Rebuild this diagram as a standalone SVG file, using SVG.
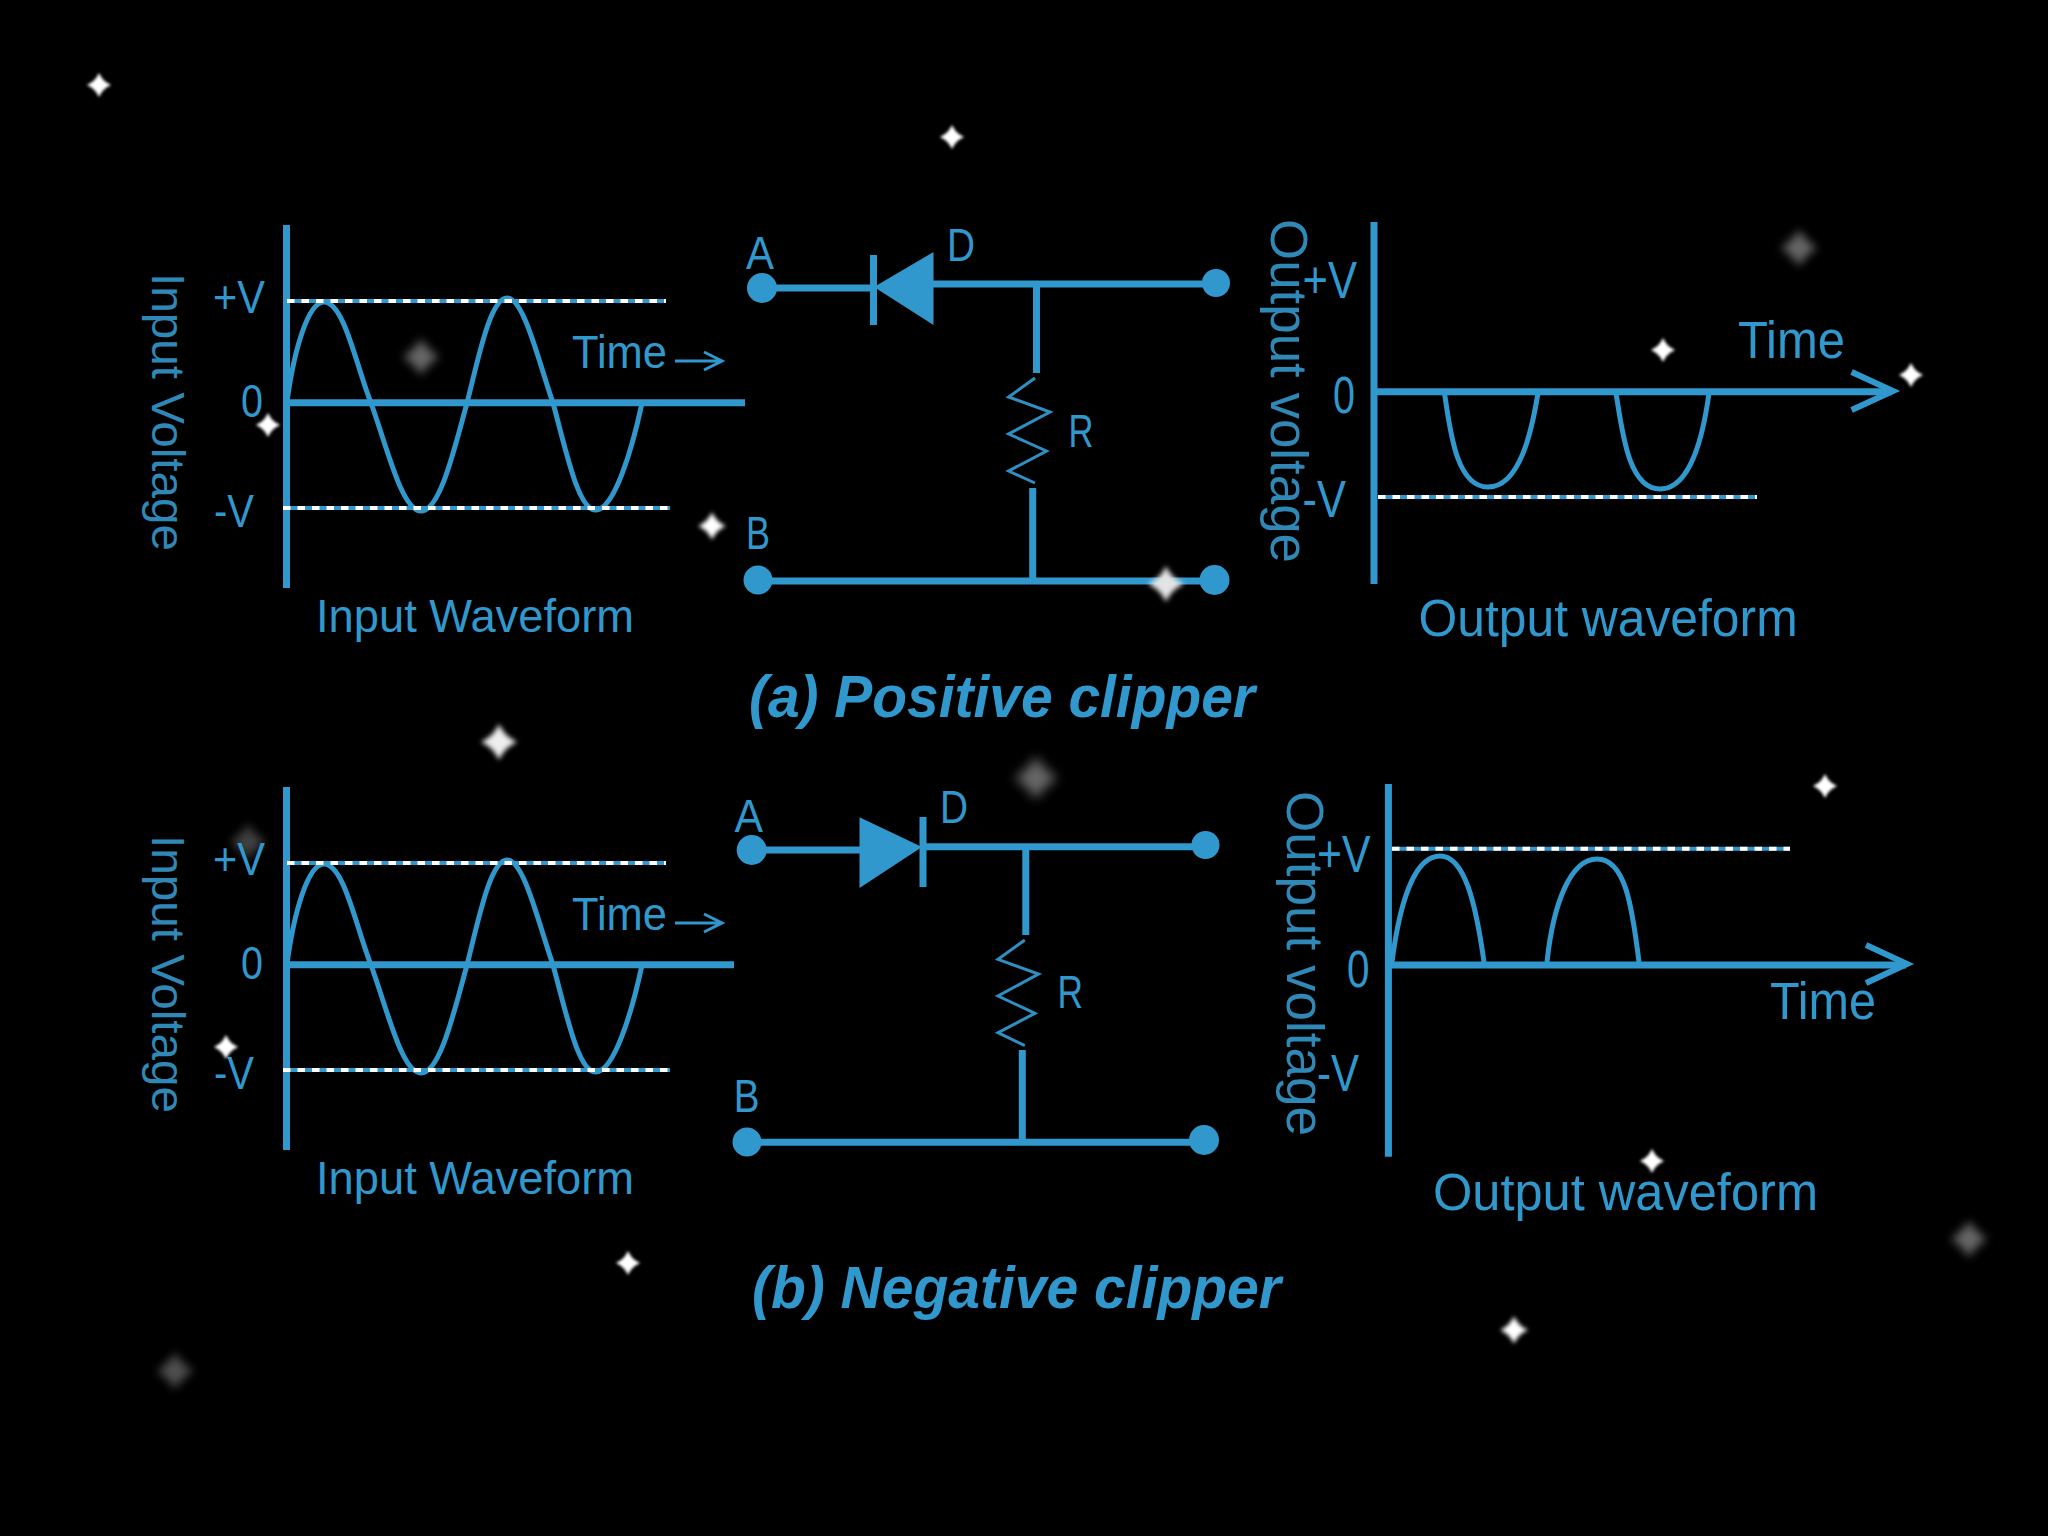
<svg xmlns="http://www.w3.org/2000/svg" width="2048" height="1536" viewBox="0 0 2048 1536">
  <style>
    .bg{fill:#000}
    .w{fill:none;stroke:#3198cd;stroke-width:7}
    .ax{fill:none;stroke:#3198cd;stroke-width:7}
    .wave{fill:none;stroke:#3198cd;stroke-width:5;stroke-linejoin:round}
    .res{fill:none;stroke:#2f8fc2;stroke-width:3}
    .arr{fill:none;stroke:#3198cd;stroke-width:3}
    .head{fill:none;stroke:#3198cd;stroke-width:6}
    .dash0{fill:none;stroke:#3198cd;stroke-width:4}
    .dash1{fill:none;stroke:#fff;stroke-width:4;stroke-dasharray:7.5 7}
    .dot,.tri{fill:#3198cd}
    text{font-family:"Liberation Sans",Arial,sans-serif;fill:#3198cd;font-weight:400}
    .f44{font-size:46px}
    .f49{font-size:51px}
    .vl{fill:#2f88b6}
    .cap{font-size:59px;font-weight:700;font-style:italic}
  </style>
  <defs>
    <filter id="blur" x="-80%" y="-80%" width="260%" height="260%"><feGaussianBlur stdDeviation="1.8"/></filter>
    <filter id="blurDim" x="-80%" y="-80%" width="260%" height="260%"><feGaussianBlur stdDeviation="3.200"/></filter>
    <path id="star" d="M0,-12 C3,-6 6,-3 12,0 C6,3 3,6 0,12 C-3,6 -6,3 -12,0 C-6,-3 -3,-6 0,-12Z" filter="url(#blur)"/>
    <path id="starDim" d="M0,-12 C4,-6 6,-4 12,0 C6,4 4,6 0,12 C-4,6 -6,4 -12,0 C-6,-4 -4,-6 0,-12Z" filter="url(#blurDim)"/>
    <g id="inputWave">
      <path class="ax" d="M286.500 225V588M286 402.700H745"/>
      <path class="wave" d="M287 402C294 350 308 302 324 302C344 302 356 365 371 403C388 450 402 511 421 511C440 511 454 450 467 403C478 360 490 298 507 298C524 298 538 360 553 403C566 450 578 510 595.500 510C614 510 632 450 642 403"/>
      <path class="dash0" d="M287 301H666M283 508H670"/>
      <path class="dash1" d="M287 301H666M283 508H670"/>
      <path class="arr" d="M675 361H722M704 352L722 361L704 370"/>
      <text class="f44" x="213" y="313" textLength="52" lengthAdjust="spacingAndGlyphs">+V</text>
      <text class="f44" x="241" y="417" textLength="22" lengthAdjust="spacingAndGlyphs">0</text>
      <text class="f44" x="214" y="527" textLength="40" lengthAdjust="spacingAndGlyphs">-V</text>
      <text class="f44" x="572" y="368" textLength="95" lengthAdjust="spacingAndGlyphs">Time</text>
      <text class="f44" x="316" y="632" textLength="318" lengthAdjust="spacingAndGlyphs">Input Waveform</text>
      <text class="f44 vl" transform="translate(152,273) rotate(90)" textLength="278" lengthAdjust="spacingAndGlyphs">Input Voltage</text>
    </g>
  </defs>
  <rect class="bg" width="2048" height="1536"/>

  <g id="stars-dim">
    <use href="#starDim" fill="#666" transform="translate(421,357) scale(1.5)"/>
    <use href="#starDim" fill="#666" transform="translate(1799,248) scale(1.5)"/>
    <use href="#starDim" fill="#686868" transform="translate(1036,778) scale(1.8)"/>
    <use href="#starDim" fill="#404040" transform="translate(248,842) scale(1.5)"/>
    <use href="#starDim" fill="#666" transform="translate(1969,1239) scale(1.5)"/>
    <use href="#starDim" fill="#505050" transform="translate(175,1371) scale(1.5)"/>
  </g>

  <g id="connectors">
    <path class="w" d="M762 288H871M933 284H1216M1036.500 284V373M1032.700 488V581M758 581H1214.500"/>
    <path class="res" d="M1035 378L1008.600 397L1050 412L1008.600 434L1046.500 451L1008.600 471L1035 483"/>
    <path class="w" d="M752 850H860M923 846.700H1205.500M1025.800 847V935M1022.300 1050V1142.300M747 1142.300H1204"/>
    <path class="res" d="M1024.800 940L998 959.300L1038.500 974L998 996L1035 1013.300L998 1032.700L1024.800 1045.700"/>
  </g>

  <g id="input-waveform-a"><use href="#inputWave"/></g>

  <g id="input-waveform-b" transform="translate(0,562)">
    <use href="#inputWave"/>
    <rect x="734" y="396" width="14" height="14" class="bg"/>
  </g>

  <g id="output-waveform-a">
    <path class="ax" d="M1374 222V584M1374 391.700H1892"/>
    <path class="head" d="M1851.600 372L1893 391L1851.600 410"/>
    <path class="wave" d="M1444.500 393C1450 430 1456 487 1488 487C1520 487 1532 430 1538 393M1616 393C1622 430 1628 489 1660 489C1692 489 1704 430 1709 393"/>
    <path class="dash0" d="M1378 497H1757"/>
    <path class="dash1" d="M1378 497H1757"/>
    <text class="f49" x="1302.500" y="298" textLength="54.500" lengthAdjust="spacingAndGlyphs">+V</text>
    <text class="f49" x="1333" y="413" textLength="22" lengthAdjust="spacingAndGlyphs">0</text>
    <text class="f49" x="1302.500" y="517" textLength="43.500" lengthAdjust="spacingAndGlyphs">-V</text>
    <text class="f49" x="1738" y="358" textLength="107" lengthAdjust="spacingAndGlyphs">Time</text>
    <text class="f49" x="1418.600" y="636" textLength="379" lengthAdjust="spacingAndGlyphs">Output waveform</text>
    <text class="f49 vl" transform="translate(1271,219) rotate(90)" textLength="344" lengthAdjust="spacingAndGlyphs">Output voltage</text>
  </g>

  <g id="output-waveform-b">
    <path class="ax" d="M1388.400 784V1156.700M1388 965H1906"/>
    <path class="head" d="M1866 945L1907 964L1866 983"/>
    <path class="wave" d="M1392 962C1400 900 1415 856 1440 856C1465 856 1476 905 1484 962M1547 962C1553 905 1570 859 1597 859C1625 859 1632 905 1639 962"/>
    <path class="dash0" d="M1392 848.700H1790"/>
    <path class="dash1" d="M1392 848.700H1790"/>
    <text class="f49" x="1317" y="871.700" textLength="53.500" lengthAdjust="spacingAndGlyphs">+V</text>
    <text class="f49" x="1347" y="986.700" textLength="22.500" lengthAdjust="spacingAndGlyphs">0</text>
    <text class="f49" x="1317" y="1090.700" textLength="42" lengthAdjust="spacingAndGlyphs">-V</text>
    <text class="f49" x="1770" y="1019" textLength="106" lengthAdjust="spacingAndGlyphs">Time</text>
    <text class="f49" x="1433" y="1210" textLength="385" lengthAdjust="spacingAndGlyphs">Output waveform</text>
    <text class="f49 vl" transform="translate(1286.600,791) rotate(90)" textLength="345" lengthAdjust="spacingAndGlyphs">Output voltage</text>
  </g>

  <g id="diode-a">
    <path class="tri" d="M874 287L933.500 252V325Z"/>
    <rect class="tri" x="870" y="255" width="7" height="70"/>
    <text class="f44" x="947" y="261" textLength="28" lengthAdjust="spacingAndGlyphs">D</text>
  </g>
  <g id="diode-b">
    <path class="tri" d="M859.500 817.300L922 847L859.500 888Z"/>
    <rect class="tri" x="919.500" y="817" width="7" height="70"/>
    <text class="f44" x="940" y="823" textLength="28" lengthAdjust="spacingAndGlyphs">D</text>
  </g>
  <g id="resistor-a"><text class="f44" x="1068.500" y="447" textLength="25" lengthAdjust="spacingAndGlyphs">R</text></g>
  <g id="resistor-b"><text class="f44" x="1057.500" y="1008" textLength="25.500" lengthAdjust="spacingAndGlyphs">R</text></g>
  <g id="terminal-a-in">
    <circle class="dot" cx="762" cy="288" r="15"/>
    <text class="f44" x="746" y="269" textLength="28" lengthAdjust="spacingAndGlyphs">A</text>
  </g>
  <g id="terminal-a-out"><circle class="dot" cx="1216" cy="283" r="14"/></g>
  <g id="terminal-a-b">
    <circle class="dot" cx="758" cy="580" r="14.500"/>
    <text class="f44" x="746" y="549" textLength="24" lengthAdjust="spacingAndGlyphs">B</text>
  </g>
  <g id="terminal-a-gnd"><circle class="dot" cx="1214.500" cy="580" r="15"/></g>
  <g id="terminal-b-in">
    <circle class="dot" cx="751.700" cy="850" r="15"/>
    <text class="f44" x="734.500" y="831.700" textLength="28.500" lengthAdjust="spacingAndGlyphs">A</text>
  </g>
  <g id="terminal-b-out"><circle class="dot" cx="1205.500" cy="845" r="14"/></g>
  <g id="terminal-b-b">
    <circle class="dot" cx="747" cy="1142" r="14.500"/>
    <text class="f44" x="733.800" y="1111.700" textLength="25.800" lengthAdjust="spacingAndGlyphs">B</text>
  </g>
  <g id="terminal-b-gnd"><circle class="dot" cx="1204" cy="1140" r="15"/></g>

  <text class="cap" x="749" y="716.500" textLength="506" lengthAdjust="spacingAndGlyphs">(a) Positive clipper</text>
  <text class="cap" x="752" y="1308" textLength="529" lengthAdjust="spacingAndGlyphs">(b) Negative clipper</text>

  <g id="stars-bright">
    <use href="#star" fill="#fff" transform="translate(99,85)"/>
    <use href="#star" fill="#fff" transform="translate(952,137)"/>
    <use href="#star" fill="#fff" transform="translate(1663,350)"/>
    <use href="#star" fill="#fff" transform="translate(1911,375)"/>
    <use href="#star" fill="#fff" transform="translate(268,425)"/>
    <use href="#star" fill="#fff" transform="translate(712,526) scale(1.15)"/>
    <use href="#star" fill="#e4e4e4" transform="translate(1166,584) scale(1.5)"/>
    <use href="#star" fill="#eee" transform="translate(499,742) scale(1.5)"/>
    <use href="#star" fill="#fff" transform="translate(1825,786)"/>
    <use href="#star" fill="#fff" transform="translate(226,1047)"/>
    <use href="#star" fill="#fff" transform="translate(1652,1161)"/>
    <use href="#star" fill="#fff" transform="translate(628,1263)"/>
    <use href="#star" fill="#fff" transform="translate(1514,1330) scale(1.15)"/>
  </g>
</svg>
